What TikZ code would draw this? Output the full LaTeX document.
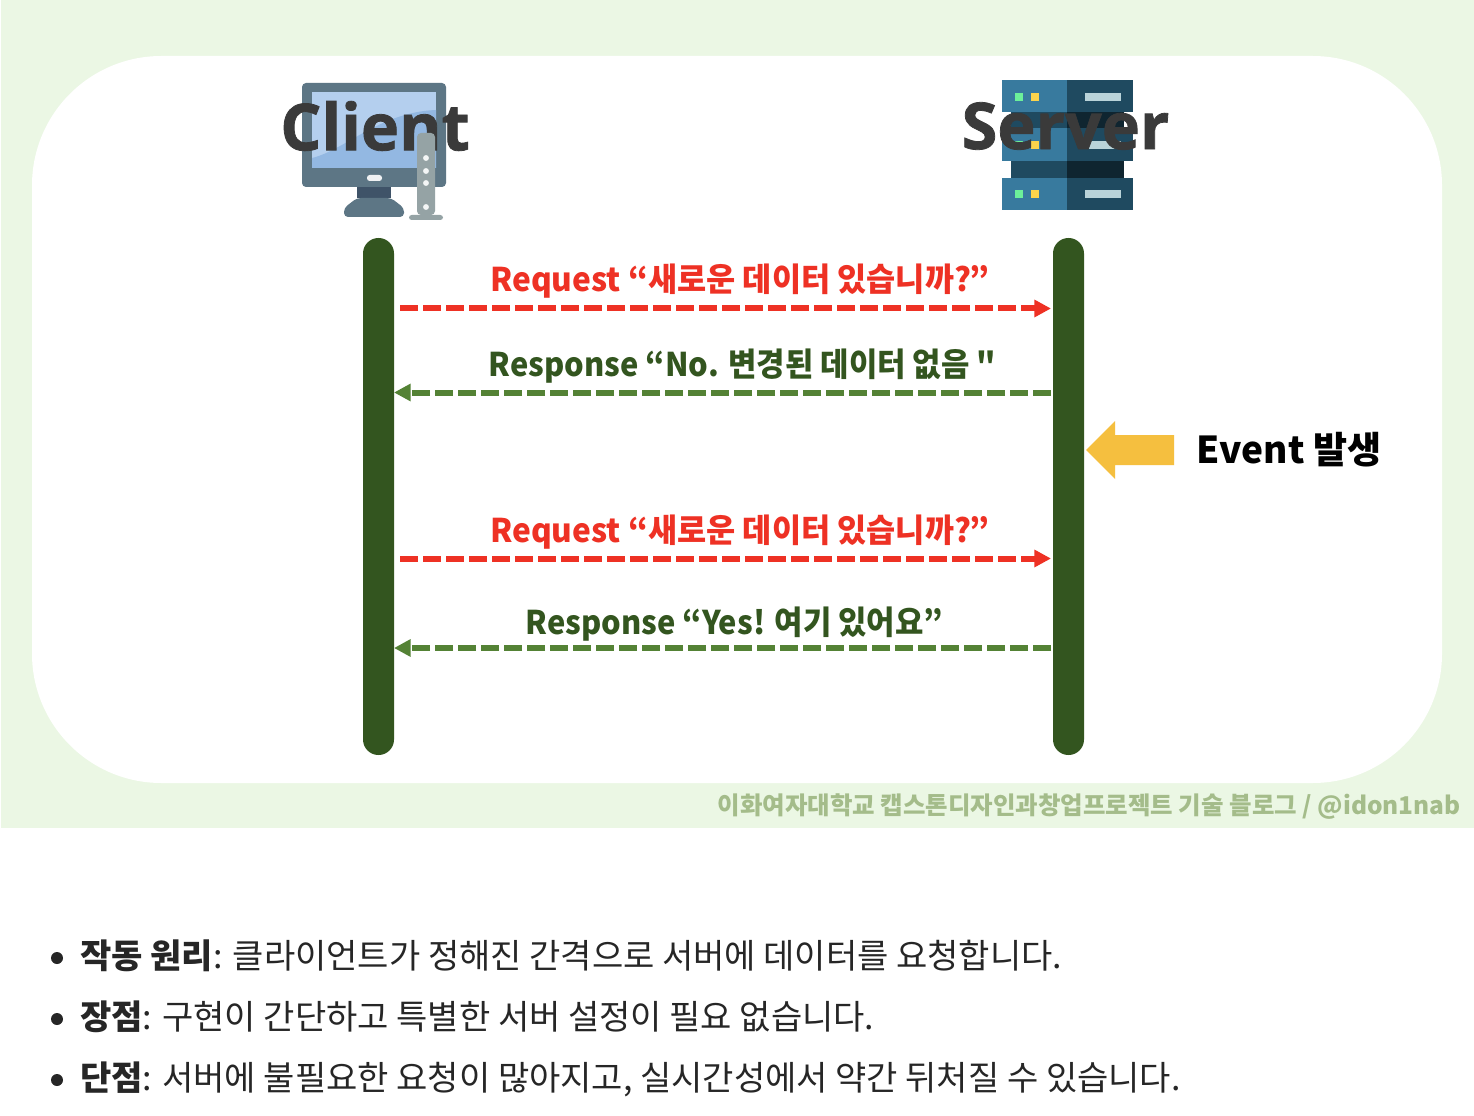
\documentclass[tikz,border=0pt]{standalone}
\usepackage{fontspec}
\setmainfont{Noto Sans CJK KR}
\newfontfamily\reqfont[FakeStretch=0.97]{Noto Sans CJK KR}
\newfontfamily\respfont[FakeStretch=0.945]{Noto Sans CJK KR}
\newfontfamily\iconfont[FakeBold=1.2]{Open Sans Bold}
\usetikzlibrary{arrows.meta,positioning}
\definecolor{bggreen}{HTML}{EBF7E4}
\definecolor{linegreen}{HTML}{33551F}
\definecolor{respgreen}{HTML}{548235}
\definecolor{reqred}{HTML}{EE3124}
\definecolor{eventyellow}{HTML}{F5BF3F}
\definecolor{footgreen}{HTML}{A4BC8A}
\definecolor{inkgray}{HTML}{3A3A3A}
\definecolor{slate}{HTML}{5D7685}
\definecolor{slatedark}{HTML}{3F5368}
\definecolor{towergray}{HTML}{95A3A5}
\definecolor{screenlight}{HTML}{B4CFEE}
\definecolor{screendark}{HTML}{93B8E2}
\definecolor{rackblue}{HTML}{387A9E}
\definecolor{rackdark}{HTML}{1F4A60}
\definecolor{rackdeep}{HTML}{0F2530}
\definecolor{ledgreen}{HTML}{6CF09A}
\definecolor{ledyellow}{HTML}{FBD44C}
\definecolor{barpale}{HTML}{B9D3D9}
\tikzset{
  lifeline/.style={rectangle, rounded corners=11.6pt, minimum width=23.25pt, minimum height=387.75pt, inner sep=0pt, fill=linegreen},
  reqline/.style={-{Triangle[length=12.5pt,width=12.5pt]}, line width=4.5pt, reqred, dash pattern=on 13.2pt off 4.05pt},
  respline/.style={-{Triangle[length=12.5pt,width=12.5pt]}, line width=4.5pt, respgreen, dash pattern=on 13.2pt off 4.05pt},
  reqlabel/.style={font=\reqfont\bfseries\fontsize{24.5pt}{28pt}\selectfont, text=reqred, inner sep=0pt},
  resplabel/.style={font=\respfont\bfseries\fontsize{24.5pt}{28pt}\selectfont, text=linegreen, inner sep=0pt},
  iconlabel/.style={font=\iconfont\fontsize{48.5pt}{56pt}\selectfont, text=inkgray, inner sep=0pt},
  bulletdot/.style={circle, fill=black!85, minimum size=9pt, inner sep=0pt},
  bulletline/.style={anchor=base west, font=\fontsize{25.5pt}{30pt}\selectfont, text=black!85, inner sep=0pt},
}
\begin{document}
\begin{tikzpicture}[x=0.75pt,y=-0.75pt]
\useasboundingbox (0,0) rectangle (1474,1116);
\fill[bggreen] (1,0) rectangle (1474,828);
\fill[white, rounded corners=97pt] (32,56) rectangle (1442,783);

% client icon
\fill[slate, rounded corners=3pt] (302,83) rectangle (446,187);
\fill[screenlight] (312,92) rectangle (436,168);
\fill[screendark] (312,168) -- (312,158) .. controls (345,150) and (380,112) .. (436,110) -- (436,168) -- cycle;
\fill[white!90!slate, rounded corners=2pt] (367,175) rectangle (382,181);
\fill[slatedark] (357,187) rectangle (391,198);
\fill[slate, rounded corners=3pt] (357,198) -- (391,198) -- (404,208) -- (404,217) -- (344,217) -- (344,208) -- cycle;

% server icon
\fill[rackblue] (1002,80) rectangle (1067,112);
\fill[rackdark] (1067,80) rectangle (1133,112);
\fill[rackdark] (1011,112) rectangle (1067,128);
\fill[rackdeep] (1067,112) rectangle (1124,128);
\fill[rackblue] (1002,128) rectangle (1067,161);
\fill[rackdark] (1067,128) rectangle (1133,161);
\fill[rackdark] (1011,161) rectangle (1067,178);
\fill[rackdeep] (1067,161) rectangle (1124,178);
\fill[rackblue] (1002,178) rectangle (1067,210);
\fill[rackdark] (1067,178) rectangle (1133,210);
\foreach \ledy in {93,141,190} {
  \fill[ledgreen] (1015,\ledy) rectangle (1023,\ledy+8);
  \fill[ledyellow] (1031,\ledy) rectangle (1039,\ledy+8);
  \fill[barpale] (1085,\ledy) rectangle (1121,\ledy+8);
}

\node (clienttitle) [iconlabel] at (375,126) {Client};
\node (servertitle) [iconlabel] at (1065.5,126) {Server};

% tower sits in front of the title
\fill[towergray, rounded corners=3pt] (417,215) -- (417,133) -- (435,133) -- (435,215) -- cycle;
\fill[towergray, rounded corners=2pt] (409,215) rectangle (443,220);
\foreach \doty in {158,171,183,207}
  \fill[white!90!towergray] (426,\doty) circle (2.2pt);

\node (clientline) [lifeline] at (378.5,496.5) {};
\node (serverline) [lifeline] at (1068.5,496.5) {};

\coordinate (reqafrom) at (400,308.5);
\coordinate (reqato) at (1051,308.5);
\coordinate (respafrom) at (1051,392.5);
\coordinate (respato) at (394,392.5);
\coordinate (reqbfrom) at (400,558.5);
\coordinate (reqbto) at (1051,558.5);
\coordinate (respbfrom) at (1051,648);
\coordinate (respbto) at (394,648);

\draw[reqline] (reqafrom) -- (reqato);
\draw[respline] (respafrom) -- (respato);
\draw[reqline] (reqbfrom) -- (reqbto);
\draw[respline] (respbfrom) -- (respbto);

\node (reqatext) [reqlabel] at (740,281) {Request “새로운 데이터 있습니까?”};
\node (respatext) [resplabel] at (742.5,366) {Response “No. 변경된 데이터 없음 "};
\node (reqbtext) [reqlabel] at (740,532) {Request “새로운 데이터 있습니까?”};
\node (respbtext) [resplabel] at (734.5,624) {Response “Yes! 여기 있어요”};

% event arrow
\fill[eventyellow] (1086,450) -- (1115,421) -- (1115,435) -- (1174,435) -- (1174,465) -- (1115,465) -- (1115,479) -- cycle;
\node (eventtext) [font=\bfseries\fontsize{27.8pt}{32pt}\selectfont, text=black, inner sep=0pt] at (1289,450) {Event 발생};

\node (credit) [font=\bfseries\fontsize{18.35pt}{22pt}\selectfont, text=footgreen, inner sep=0pt, anchor=east] at (1461,807) {이화여자대학교 캡스톤디자인과창업프로젝트 기술 블로그 / @idon1nab};

\node (dota) [bulletdot] at (57,958) {};
\node (dotb) [bulletdot] at (57,1019) {};
\node (dotc) [bulletdot] at (57,1080) {};
\node (linea) [bulletline] at (80,968.5) {\textbf{작동 원리}: 클라이언트가 정해진 간격으로 서버에 데이터를 요청합니다.};
\node (lineb) [bulletline] at (80,1029.5) {\textbf{장점}: 구현이 간단하고 특별한 서버 설정이 필요 없습니다.};
\node (linec) [bulletline] at (80,1090.5) {\textbf{단점}: 서버에 불필요한 요청이 많아지고, 실시간성에서 약간 뒤처질 수 있습니다.};

\end{tikzpicture}
\end{document}
